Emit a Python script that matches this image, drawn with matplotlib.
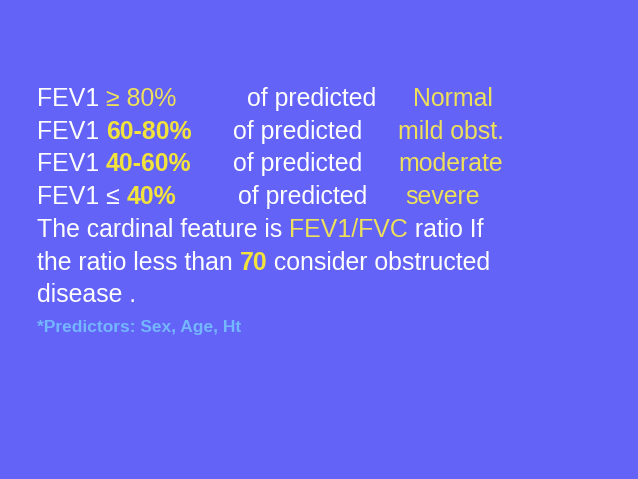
import matplotlib
matplotlib.use("Agg")
import matplotlib.pyplot as plt

# ---- content (data) ----
# each FEV1 row: (prefix text in white, highlighted text in yellow, highlighted bold?)
row_prefix = ["FEV1 ", "FEV1 ", "FEV1 ", "FEV1 \u2264 "]
row_value = ["\u2265 80%", "60-80%", "40-60%", "40%"]
row_bold = [False, True, True, True]
qualifier = ["of predicted", "of predicted", "of predicted", "of predicted"]
severity = ["Normal", "mild obst.", "moderate", "severe"]
line5 = [("The cardinal feature is ", "w", False), ("FEV1/FVC", "y", False), (" ratio If", "w", False)]
line6 = [("the ratio less than ", "w", False), ("70", "y", True), (" consider obstructed", "w", False)]
line7 = [("disease .", "w", False)]
footnote = "*Predictors: Sex, Age, Ht"

# ---- layout / style ----
W, H = 638, 479
BG = "#6363F7"
WHITE = "#FFFFFF"
YELLOW = "#EEE05A"
YELLOW_B = "#F2E23C"
LBLUE = "#74B6FF"
FONT = "Liberation Sans"
FS = 17.9

fig = plt.figure(figsize=(W / 100, H / 100), dpi=100)
fig.patch.set_facecolor(BG)
renderer = fig.canvas.get_renderer()


def put(x, y, s, color, bold=False, size=FS):
    t = fig.text(x / W, 1 - y / H, s, color=color, fontsize=size, family=FONT,
                 fontweight="bold" if bold else "normal", va="baseline", ha="left")
    return t


def segs(x, y, parts, size=FS):
    for s, c, b in parts:
        col = WHITE if c == "w" else (YELLOW_B if b else YELLOW)
        t = put(x, y, s, col, b, size)
        bb = t.get_window_extent(renderer=renderer)
        x += bb.width


x0 = 37
base0 = 106
step = 32.7
col2 = [247, 233, 233, 238]
col3 = [413, 398, 398, 405]

for i in range(4):
    y = base0 + i * step
    segs(x0, y, [(row_prefix[i], "w", False), (row_value[i], "y", row_bold[i])])
    put(col2[i], y, qualifier[i], WHITE)
    put(col3[i], y, severity[i], YELLOW)

for j, parts in enumerate([line5, line6, line7]):
    segs(x0, base0 + (4 + j) * step, parts)

put(x0, base0 + 6 * step + 30, footnote, LBLUE, bold=True, size=12.5)

fig.savefig("out.png", dpi=100, facecolor=BG)
